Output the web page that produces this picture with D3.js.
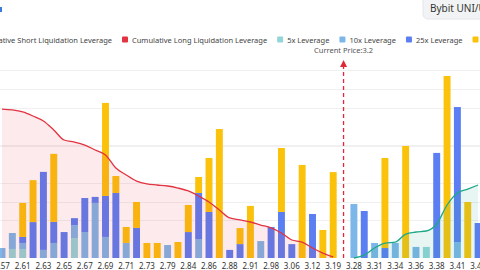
<!DOCTYPE html>
<html>
<head>
<meta charset="utf-8">
<script src="https://cdn.jsdelivr.net/npm/d3@7"></script>
<style>
body { margin: 0; background: #fff; overflow: hidden; }
svg { display: block; font-family: "Noto Sans", sans-serif; }
</style>
</head>
<body>
<div id="chart"></div>
<script>
const W = 480, H = 270
const BASE = 258

// price levels (x categories)
const prices = ['2.57','2.59','2.61','2.62','2.63','2.64','2.65','2.66','2.67','2.68','2.69','2.70','2.71','2.72','2.73','2.76',
  '2.79','2.81','2.84','2.85','2.86','2.87','2.88','2.89','2.91','2.94','2.98','3.01','3.06','3.09','3.12','3.15','3.19','3.23',
  '3.28','3.29','3.31','3.32','3.34','3.35','3.36','3.37','3.38','3.39','3.41','3.42','3.44']

// liquidation leverage (K USD)
const lev5  = [0,48,48,0,0,0,0,106,0,0,0,0,0,0,0,0,0,0,0,0,0,0,0,0,0,0,0,0,0,0,0,0,0,0,0,0,0,0,0,0,0,59,0,0,0,0,0]
const lev10 = [53,85,32,0,43,80,0,69,138,293,112,0,80,0,0,0,69,0,0,101,0,0,0,0,0,90,0,0,0,0,0,0,0,0,287,0,80,0,80,0,59,0,0,0,85,0,0]
const lev25 = [0,0,32,191,415,112,138,37,181,32,218,346,0,160,0,0,0,0,138,245,245,0,43,74,0,0,165,245,74,0,234,0,0,0,0,250,0,53,0,0,0,0,559,0,718,0,186]
const lev50 = [0,0,181,223,0,362,0,0,0,0,495,90,85,138,80,80,0,85,144,85,287,686,0,85,277,0,0,340,0,495,0,149,457,0,0,0,0,479,0,596,0,0,0,968,0,298,0]

// cumulative liquidation (M USD)
const longCum = [13.24,13.16,12.98,12.62,12.18,11.38,10.49,10.31,10.04,9.60,9.16,8.00,7.38,6.84,6.58,6.49,6.40,6.22,5.96,5.51,
  4.98,4.27,3.56,3.38,3.20,2.93,2.67,2.22,1.60,1.42,0.89,0.44,0.09,null,null,null,null,null,null,null,null,null,null,null,null,null,null]
const shortCum = [null,null,null,null,null,null,null,null,null,null,null,null,null,null,null,null,null,null,null,null,null,null,null,
  null,null,null,null,null,null,null,null,null,null,null,0,0.27,0.89,1.33,1.42,2.13,2.31,2.40,3.02,4.71,5.78,6.13,6.49]

const currentPrice = '3.23'
const legendItems = ['Cumulative Short Liquidation Leverage','Cumulative Long Liquidation Leverage','5x Leverage','10x Leverage','25x Leverage','50x Leverage']
const colors = {l5: '#93d5d9', l10: '#7db6e8', l25: '#5b7ef2', l50: '#fbc20c', short: '#1ea88a', long: '#e23340'}

const svg = d3.select('#chart').append('svg').attr('width', W).attr('height', H)

const STEP = 10.35
const x = d3.scaleBand()
  .domain(prices)
  .range([-3.175, -3.175 + STEP * prices.length])
  .paddingInner(0.33)
  .paddingOuter(0.165)

const yBar = d3.scaleLinear().domain([0, 1000]).range([BASE, 70])
const yCum = d3.scaleLinear().domain([0, 16]).range([BASE, 78])

// grid lines
svg.append('g').selectAll('line')
  .data(yBar.ticks(5).filter(d => d > 0))
  .join('line')
  .attr('x1', 0).attr('x2', W)
  .attr('y1', d => Math.round(yBar(d)) + 0.5).attr('y2', d => Math.round(yBar(d)) + 0.5)
  .attr('stroke', '#f0f0f0')
svg.append('g').selectAll('line')
  .data(yCum.ticks(4).filter(d => d > 0))
  .join('line')
  .attr('x1', 0).attr('x2', W)
  .attr('y1', d => Math.round(yCum(d)) + 0.5).attr('y2', d => Math.round(yCum(d)) + 0.5)
  .attr('stroke', '#f0f0f0')

// stacked bars
const rows = prices.map((p, i) => ({price: p, l5: lev5[i], l10: lev10[i], l25: lev25[i], l50: lev50[i]}))
const series = d3.stack().keys(['l5', 'l10', 'l25', 'l50'])(rows)

svg.append('g').selectAll('g')
  .data(series)
  .join('g')
  .attr('fill', s => colors[s.key])
  .selectAll('rect')
  .data(s => s.filter(d => d[1] > d[0]))
  .join('rect')
  .attr('x', d => x(d.data.price))
  .attr('width', x.bandwidth())
  .attr('y', d => yBar(d[1]))
  .attr('height', d => yBar(d[0]) - yBar(d[1]))

// cumulative areas + lines
function drawCum(vals, color, fillOp) {
  const pts = prices.map((p, i) => ({p, v: vals[i]})).filter(d => d.v != null)
  const cx = d => x(d.p) + x.bandwidth() / 2
  svg.append('path')
    .datum(pts)
    .attr('fill', color)
    .attr('fill-opacity', fillOp)
    .attr('d', d3.area().curve(d3.curveMonotoneX).x(cx).y0(BASE).y1(d => yCum(d.v)))
  svg.append('path')
    .datum(pts)
    .attr('fill', 'none')
    .attr('stroke', color)
    .attr('stroke-width', 1.3)
    .attr('d', d3.line().curve(d3.curveMonotoneX).x(cx).y(d => yCum(d.v)))
}
drawCum(longCum, colors.long, 0.1)
drawCum(shortCum, colors.short, 0.1)

// current price marker
const cpx = x(currentPrice) + x.bandwidth() / 2
svg.append('line')
  .attr('x1', cpx).attr('x2', cpx)
  .attr('y1', BASE).attr('y2', 66)
  .attr('stroke', '#e0283a')
  .attr('stroke-width', 1.3)
  .attr('stroke-dasharray', '4,3')
svg.append('path')
  .attr('d', `M${cpx},60 L${cpx - 3.5},67 L${cpx + 3.5},67 Z`)
  .attr('fill', '#e0283a')
svg.append('text')
  .attr('x', cpx).attr('y', 53)
  .attr('text-anchor', 'middle')
  .attr('font-size', 7.5)
  .attr('fill', '#555')
  .text('Current Price:3.2')

// x tick labels, every other category
svg.append('g').selectAll('text')
  .data(prices.filter((p, i) => i % 2 === 0))
  .join('text')
  .attr('x', d => x(d) + x.bandwidth() / 2)
  .attr('y', 269)
  .attr('text-anchor', 'middle')
  .attr('font-size', 8)
  .attr('fill', '#333')
  .text(d => d)

// legend
const legColors = [colors.short, colors.long, colors.l5, colors.l10, colors.l25, colors.l50]
const leg = svg.append('g')
let lx = 0
let longX = 0
legendItems.forEach((t, i) => {
  if (i === 1) longX = lx
  const g = leg.append('g').attr('transform', `translate(${lx},0)`)
  g.append('rect').attr('x', 0).attr('y', 36.5).attr('width', 6).attr('height', 6).attr('rx', 1).attr('fill', legColors[i])
  const tx = g.append('text').attr('x', 10).attr('y', 42.5).attr('font-size', 7.5).attr('fill', '#444').text(t)
  lx += 10 + tx.node().getComputedTextLength() + 10
})
// shift legend so the long swatch sits where it does in the reference
leg.attr('transform', `translate(${122 - longX},0)`)

// exchange selector button (cropped)
svg.append('rect')
  .attr('x', 423).attr('y', -8).attr('width', 80).attr('height', 27).attr('rx', 5)
  .attr('fill', '#f1f3f5').attr('stroke', '#e4e6ea')
svg.append('text')
  .attr('x', 430).attr('y', 12)
  .attr('font-size', 10).attr('fill', '#333')
  .text('Bybit UNI/USDT')

svg.append('rect').attr('x', -3).attr('y', 7).attr('width', 5).attr('height', 5).attr('fill', '#3b7be0')
</script>
</body>
</html>
